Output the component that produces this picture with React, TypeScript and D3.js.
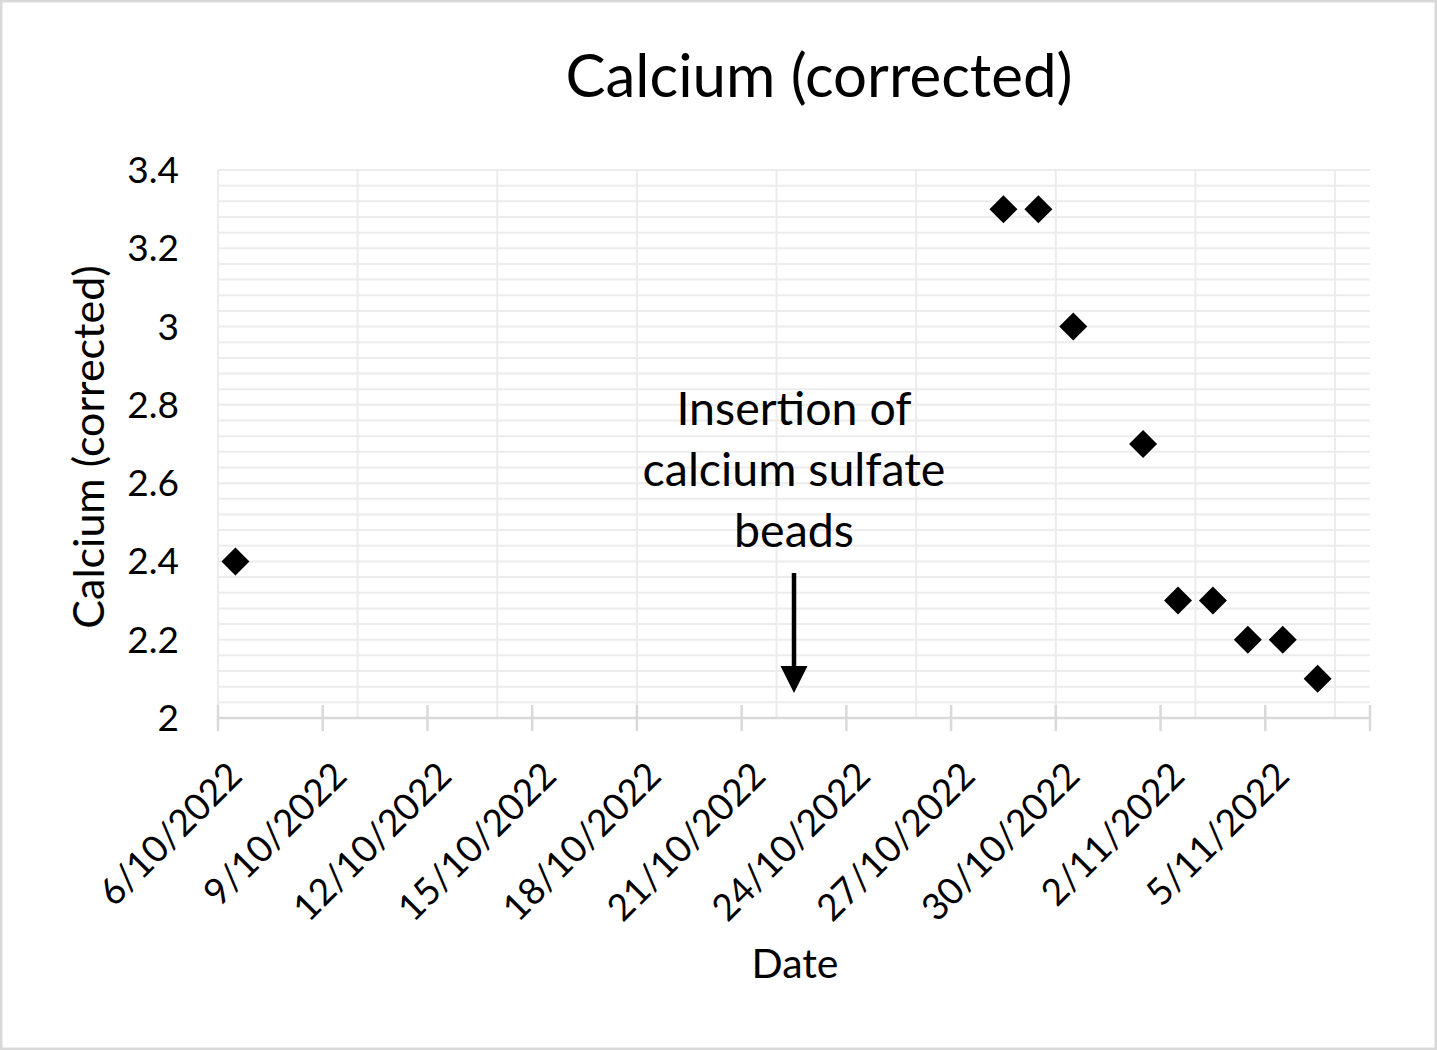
import React from "react";
import * as d3 from "d3";

const dates = [
  "2022-10-06T12:00",
  "2022-10-28T12:00",
  "2022-10-29T12:00",
  "2022-10-30T12:00",
  "2022-11-01T12:00",
  "2022-11-02T12:00",
  "2022-11-03T12:00",
  "2022-11-04T12:00",
  "2022-11-05T12:00",
  "2022-11-06T12:00",
];
const calcium = [2.4, 3.3, 3.3, 3.0, 2.7, 2.3, 2.3, 2.2, 2.2, 2.1];
const yTicks = [2, 2.2, 2.4, 2.6, 2.8, 3, 3.2, 3.4];
const annotationDate = "2022-10-22T12:00";
const annotationLines = ["Insertion of", "calcium sulfate", "beads"];

const W = 1437;
const H = 1050;
const FONT = "Lato, 'Noto Sans', sans-serif";

export default function App() {
  const parse = (s: string) => new Date(s);
  const x = d3
    .scaleTime()
    .domain([new Date(2022, 9, 6), new Date(2022, 10, 8)])
    .range([218, 1370]);
  const y = d3.scaleLinear().domain([2, 3.4]).range([718, 170]);

  const allDays = d3.timeDay.range(new Date(2022, 9, 6), new Date(2022, 10, 9), 1);
  const tickDates = allDays.filter((_, i) => i % 3 === 0);
  const labelDates = tickDates.slice(0, -1);
  const gridDates = allDays.filter((_, i) => i % 4 === 0);
  const minorY = d3.range(1, 36).map((i) => 2 + i * 0.04);
  const fmt = (d: Date) => `${d.getDate()}/${d.getMonth() + 1}/${d.getFullYear()}`;
  const diamond = d3.symbol(d3.symbolSquare, 392)() as string;
  const ax = x(parse(annotationDate));

  return (
    <div style={{ position: "absolute", left: 0, top: 0 }}>
      <svg width={W} height={H} style={{ display: "block", background: "#fff" }}>
        <rect x={1.25} y={1.25} width={W - 2.5} height={H - 2.5} fill="#fff" stroke="#d9d9d9" strokeWidth={2.5} />
        {minorY.map((v, i) => (
          <line key={"h" + i} x1={x.range()[0]} x2={x.range()[1]} y1={y(v)} y2={y(v)} stroke="#ececec" strokeWidth={2} />
        ))}
        {gridDates.map((d, i) => (
          <line key={"v" + i} x1={x(d)} x2={x(d)} y1={y(3.4)} y2={y(2)} stroke="#ececec" strokeWidth={2} />
        ))}
        <line x1={x.range()[0]} x2={x.range()[1]} y1={y(2)} y2={y(2)} stroke="#d9d9d9" strokeWidth={2.5} />
        {tickDates.map((d, i) => (
          <line key={"t" + i} x1={x(d)} x2={x(d)} y1={y(2) - 13} y2={y(2) + 13} stroke="#d9d9d9" strokeWidth={2.5} />
        ))}
        {labelDates.map((d, i) => (
          <text
            key={"tl" + i}
            transform={`translate(${x(d) + 17},${y(2) + 51}) rotate(-45)`}
            textAnchor="end"
            dy="0.35em"
            fontFamily={FONT}
            fontSize={37}
            fill="#000"
          >
            {fmt(d)}
          </text>
        ))}
        {yTicks.map((v, i) => (
          <text key={"yl" + i} x={179} y={y(v)} dy="0.35em" textAnchor="end" fontFamily={FONT} fontSize={37} fill="#000">
            {d3.format("")(v)}
          </text>
        ))}
        {dates.map((d, i) => (
          <path key={"p" + i} d={diamond} transform={`translate(${x(parse(d))},${y(calcium[i])}) rotate(45)`} fill="#000" />
        ))}
        {annotationLines.map((t, i) => (
          <text key={"a" + i} x={ax} y={425 + i * 61} textAnchor="middle" fontFamily={FONT} fontSize={46.5} fill="#000">
            {t}
          </text>
        ))}
        <line x1={ax} x2={ax} y1={573} y2={668} stroke="#000" strokeWidth={4.5} />
        <path d={`M${ax - 13.5},666 L${ax + 13.5},666 L${ax},693 Z`} fill="#000" />
        <text x={819} y={97} textAnchor="middle" fontFamily={FONT} fontSize={60} fill="#000">
          Calcium (corrected)
        </text>
        <text x={795} y={978} textAnchor="middle" fontFamily={FONT} fontSize={41} fill="#000">
          Date
        </text>
        <text transform={`translate(104,447) rotate(-90)`} textAnchor="middle" fontFamily={FONT} fontSize={43} fill="#000">
          Calcium (corrected)
        </text>
      </svg>
    </div>
  );
}
